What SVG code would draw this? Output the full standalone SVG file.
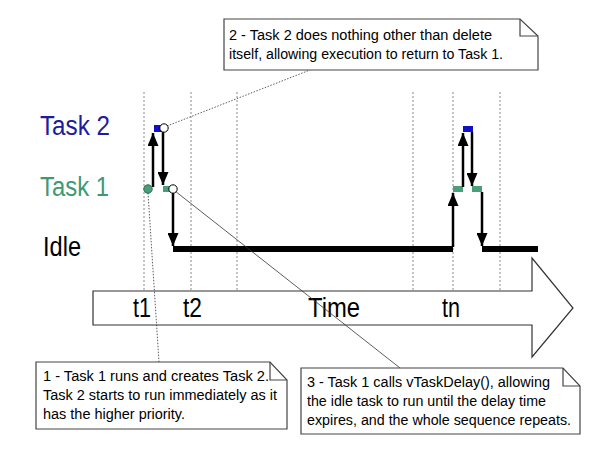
<svg xmlns="http://www.w3.org/2000/svg" width="600" height="450" viewBox="0 0 600 450">
<defs>
<marker id="ah" markerUnits="userSpaceOnUse" markerWidth="14" markerHeight="11" refX="13" refY="5.5" orient="auto">
<path d="M0,0 L13,5.5 L0,11 z" fill="#000"/>
</marker>
<style>
.lbl{font-family:"Liberation Sans",Arial,sans-serif;font-size:27px}
.tl{font-family:"Liberation Sans",Arial,sans-serif;font-size:27px;fill:#000}
.ct{font-family:"Liberation Sans",Arial,sans-serif;font-size:15.5px;fill:#000}
.grid{stroke:#8a8a8a;stroke-width:1;stroke-dasharray:2,2;fill:none}
.box{fill:#fff;stroke:#444;stroke-width:1.2}
.fold{fill:none;stroke:#444;stroke-width:1.2}
.flow{stroke:#000;stroke-width:2.5;fill:none;marker-end:url(#ah)}
.t2{fill:#1010c8}
.t1{fill:#4a9e7c}
.ring{fill:#fff;stroke:#000;stroke-width:1}
.lead{stroke:#333;stroke-width:0.8;fill:none;stroke-dasharray:1.5,1.5}
.leadS{stroke:#333;stroke-width:0.8;fill:none}
</style>
</defs>
<rect width="600" height="450" fill="#fff"/>

<g id="gridlines">
<line class="grid" x1="144" y1="92" x2="144" y2="291"/>
<line class="grid" x1="191" y1="92" x2="191" y2="291"/>
<line class="grid" x1="237" y1="92" x2="237" y2="291"/>
<line class="grid" x1="413" y1="92" x2="413" y2="291"/>
<line class="grid" x1="453" y1="92" x2="453" y2="291"/>
<line class="grid" x1="500" y1="92" x2="500" y2="291"/>
</g>

<g id="row-labels">
<text class="lbl" x="40" y="135" textLength="70" lengthAdjust="spacingAndGlyphs" fill="#1c1c9c">Task 2</text>
<text class="lbl" x="40" y="196" textLength="69" lengthAdjust="spacingAndGlyphs" fill="#3f9a74">Task 1</text>
<text class="lbl" x="43" y="256" textLength="38" lengthAdjust="spacingAndGlyphs" fill="#000">Idle</text>
</g>

<g id="time-axis">
<polygon points="93,291 532,291 532,258 573,308 532,357 532,325 93,325" fill="#fff" stroke="#333" stroke-width="1.2"/>
<text class="tl" x="133" y="317" textLength="18" lengthAdjust="spacingAndGlyphs">t1</text>
<text class="tl" x="183" y="317" textLength="19" lengthAdjust="spacingAndGlyphs">t2</text>
<text class="tl" x="308" y="317" textLength="52" lengthAdjust="spacingAndGlyphs">Time</text>
<text class="tl" x="442" y="317" textLength="18" lengthAdjust="spacingAndGlyphs">tn</text>
</g>

<g id="idle-bars">
<rect x="173" y="246" width="280" height="6" fill="#000"/>
<rect x="482" y="246" width="56" height="6" fill="#000"/>
</g>

<g id="task-bars">
<rect class="t2" x="154" y="125" width="9" height="7"/>
<rect class="t1" x="163" y="186" width="9" height="6"/>
<rect class="t2" x="463" y="126" width="10" height="6"/>
<rect class="t1" x="453" y="186" width="10" height="6"/>
<rect class="t1" x="472" y="186" width="10" height="6"/>
</g>

<g id="connectors">
<line class="leadS" x1="175" y1="191" x2="400" y2="368"/>
<line class="lead" x1="167" y1="126" x2="310" y2="70"/>
<line class="lead" x1="148" y1="193" x2="159" y2="362"/>
<line class="flow" x1="153" y1="187" x2="153" y2="133"/>
<line class="flow" x1="163" y1="131" x2="163" y2="185"/>
<line class="flow" x1="173" y1="192" x2="173" y2="246"/>
<line class="flow" x1="453" y1="247" x2="453" y2="193"/>
<line class="flow" x1="463" y1="187" x2="463" y2="133"/>
<line class="flow" x1="472" y1="132" x2="472" y2="186"/>
<line class="flow" x1="482" y1="192" x2="482" y2="246"/>
</g>

<g id="markers">
<circle cx="148" cy="189" r="4.2" fill="#4a9e7c" stroke="#2c6a50" stroke-width="1"/>
<circle class="ring" cx="173" cy="189" r="4.2"/>
<circle class="ring" cx="164" cy="128" r="4.2"/>
</g>

<g id="note2">
<path class="box" d="M224,19 L520,19 L538,36 L538,70 L224,70 Z"/>
<path class="fold" d="M520,19 L520,36 L538,36"/>
<text class="ct" x="229" y="40" textLength="263" lengthAdjust="spacingAndGlyphs">2 - Task 2 does nothing other than delete</text>
<text class="ct" x="229" y="59" textLength="274" lengthAdjust="spacingAndGlyphs">itself, allowing execution to return to Task 1.</text>
</g>

<g id="note1">
<path class="box" d="M36,362 L270,362 L287,380 L287,429 L36,429 Z"/>
<path class="fold" d="M270,362 L270,380 L287,380"/>
<text class="ct" x="43" y="381" textLength="226" lengthAdjust="spacingAndGlyphs">1 - Task 1 runs and creates Task 2.</text>
<text class="ct" x="43" y="400" textLength="234" lengthAdjust="spacingAndGlyphs">Task 2 starts to run immediately as it</text>
<text class="ct" x="43" y="419" textLength="142" lengthAdjust="spacingAndGlyphs">has the higher priority.</text>
</g>

<g id="note3">
<path class="box" d="M301,368 L563,368 L580,386 L580,434 L301,434 Z"/>
<path class="fold" d="M563,368 L563,386 L580,386"/>
<text class="ct" x="307" y="387" textLength="243" lengthAdjust="spacingAndGlyphs">3 - Task 1 calls vTaskDelay(), allowing</text>
<text class="ct" x="307" y="406" textLength="239" lengthAdjust="spacingAndGlyphs">the idle task to run until the delay time</text>
<text class="ct" x="307" y="425" textLength="264" lengthAdjust="spacingAndGlyphs">expires, and the whole sequence repeats.</text>
</g>
</svg>
